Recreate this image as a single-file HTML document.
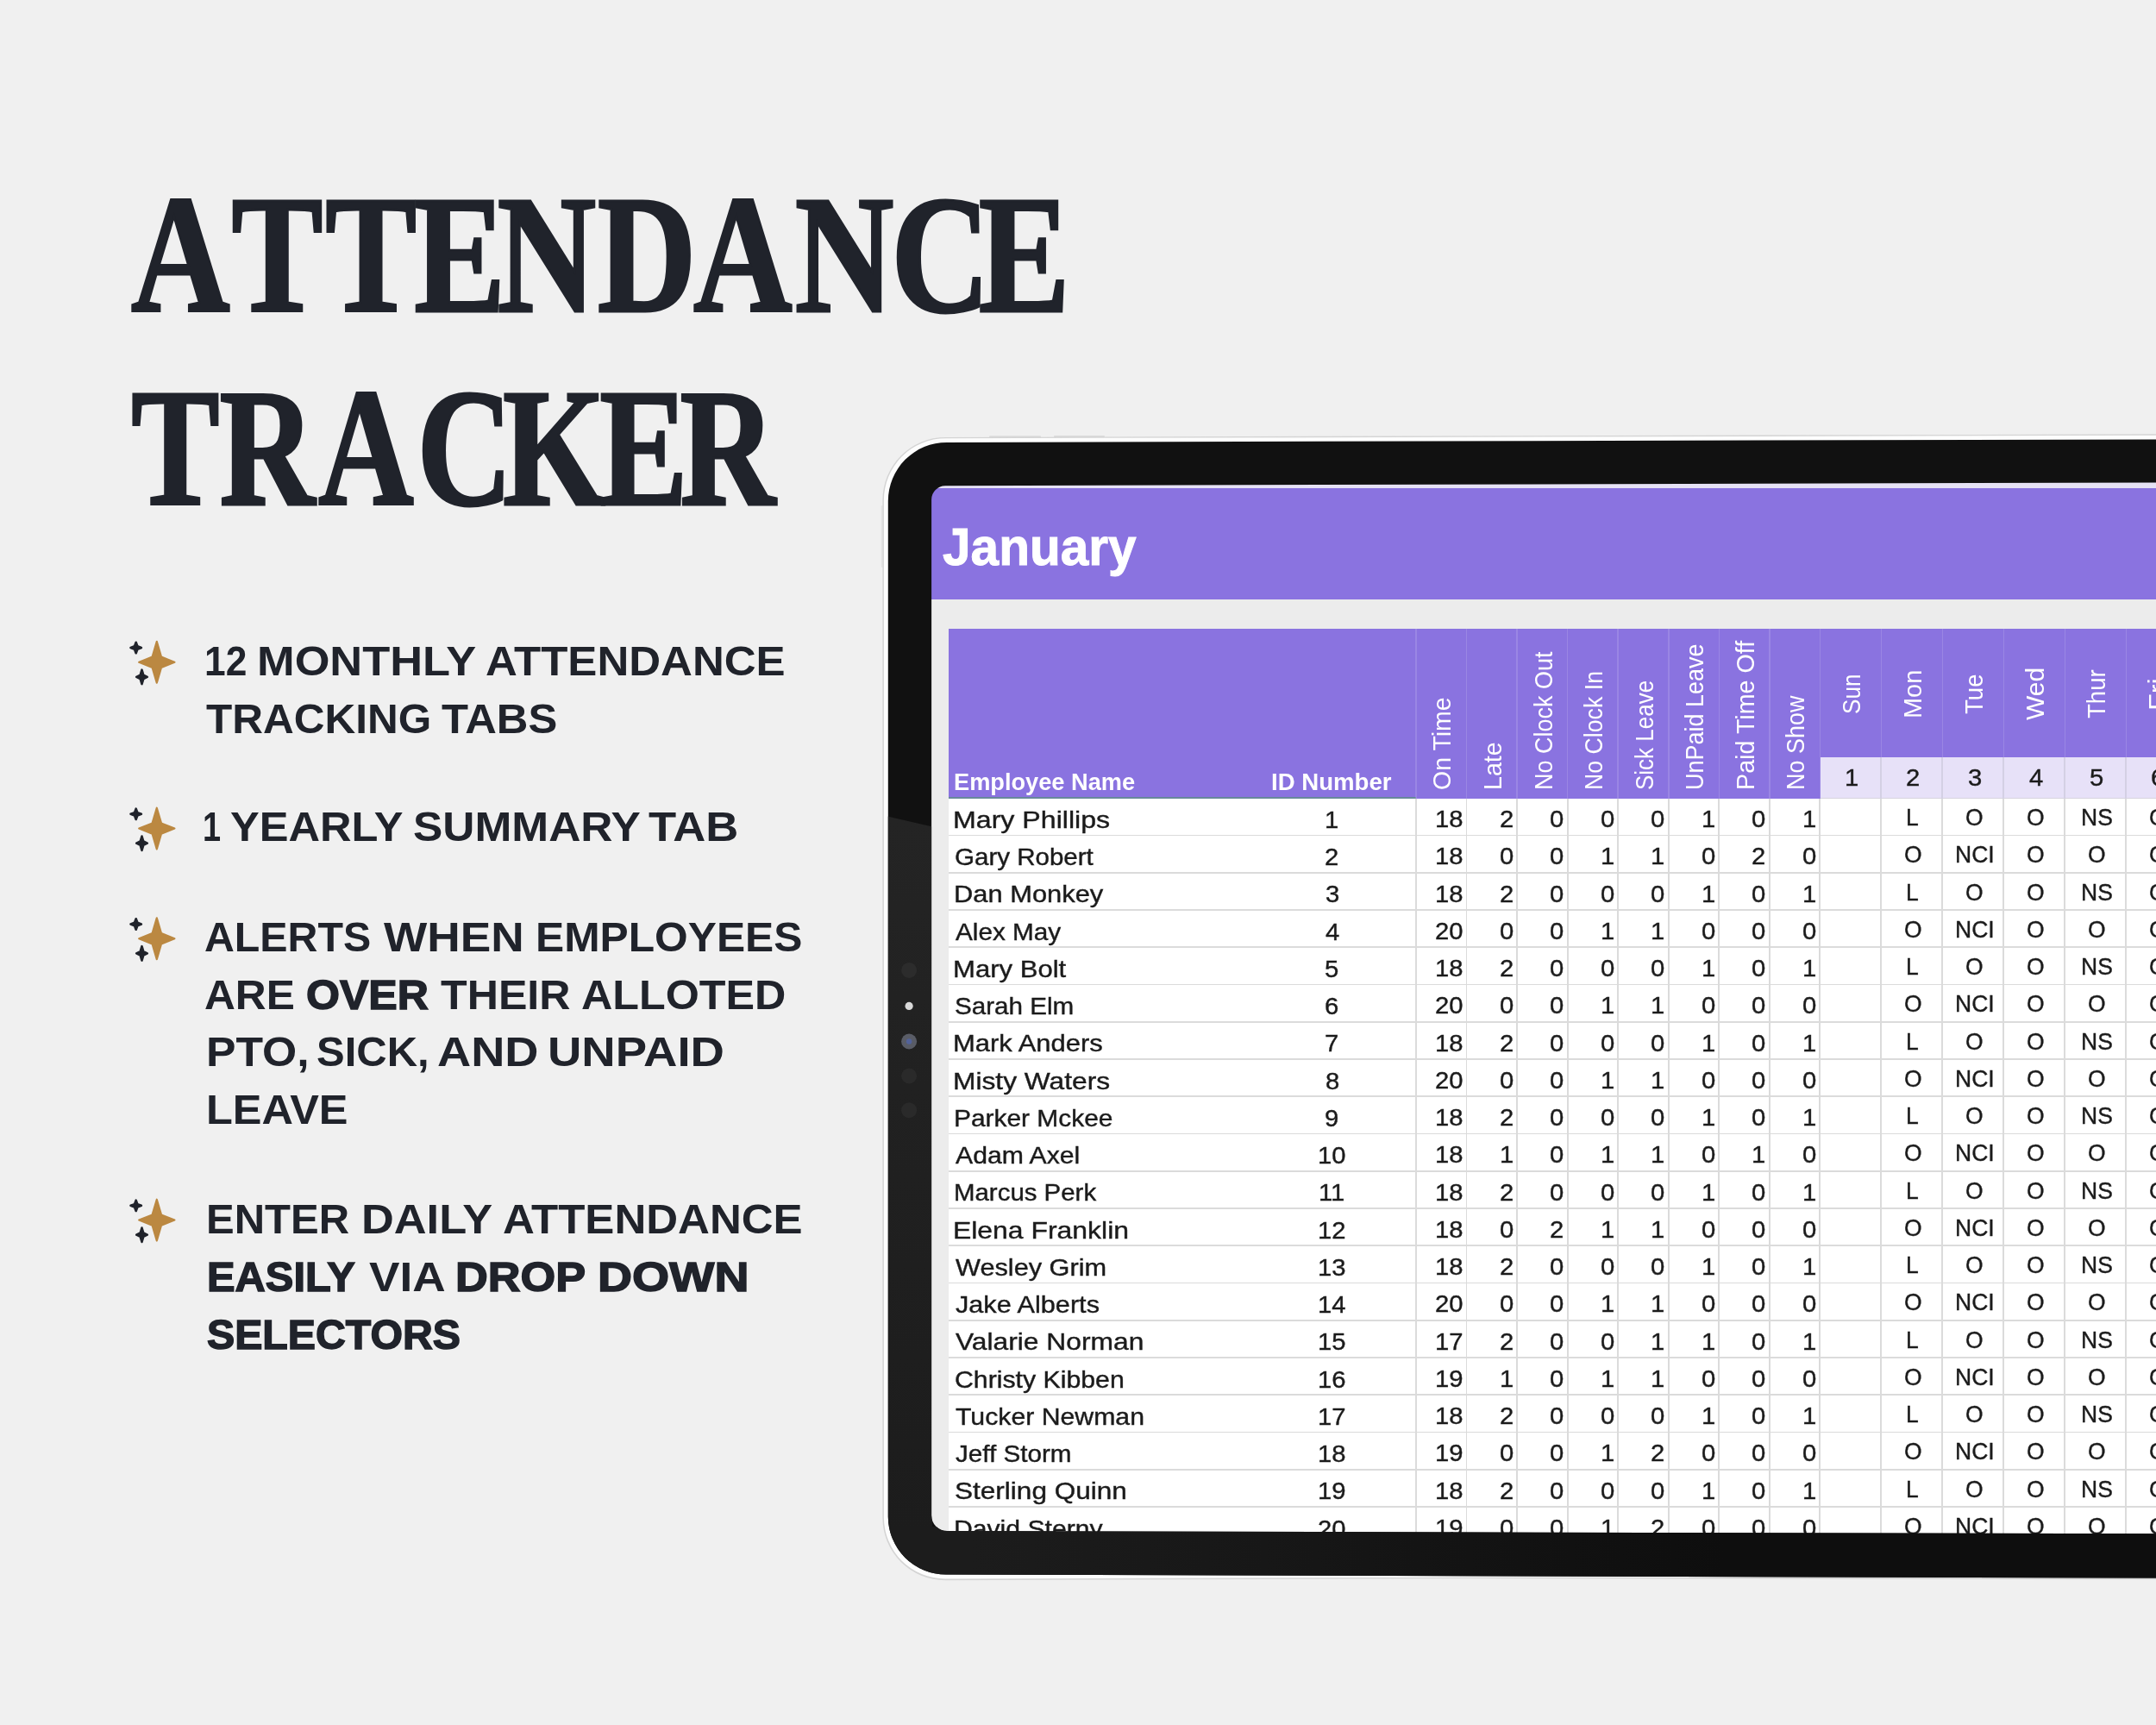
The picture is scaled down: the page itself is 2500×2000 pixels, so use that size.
<!DOCTYPE html>
<html lang="en"><head><meta charset="utf-8"><title>Attendance Tracker</title>
<style>
html,body{margin:0;padding:0}
html{width:2500px;height:2000px;overflow:hidden}
body{width:2500px;height:2000px;position:relative;overflow:hidden;background:#f0f0f0;font-family:"Liberation Sans",sans-serif}
.abs{position:absolute}
.t{position:absolute;white-space:nowrap;transform-origin:0 0;line-height:1}
.title{font-family:"Liberation Serif","DejaVu Serif",serif;font-weight:700;color:#20232b;font-size:194px;-webkit-text-stroke:3px #20232b}
.bl{font-family:"Liberation Sans",sans-serif;font-weight:700;color:#20232b;font-size:48.6px}
.bb{-webkit-text-stroke:1.5px #20232b}
#screen{position:absolute;left:1076px;top:557px;width:1424px;height:1225px;overflow:hidden;background:#ececec;filter:blur(0.45px)}
#screen .abs, #screen .t{position:absolute}
.rt{-webkit-text-stroke:0.4px #1b1b1b}
.cell{position:absolute;white-space:nowrap;color:#1c1c1c;font-size:27px;line-height:1}
.hv{position:absolute;white-space:nowrap;color:#fff;font-size:27px;transform-origin:0 0;transform:rotate(-90deg)}
</style></head><body>
<svg class="abs" style="left:0;top:0" width="1400" height="700" viewBox="0 0 1400 700"><g font-family="Liberation Serif, DejaVu Serif, serif" font-weight="700" font-size="194" fill="#20232b" stroke="#20232b" stroke-width="3.0" stroke-linejoin="miter">
<text transform="scale(0.8186,1)" y="361.40" x="185.54 328.04 460.82 586.77 704.20 846.28 982.11 1125.88 1262.33 1386.33">ATTENDANCE</text>
<text transform="scale(0.7905,1)" y="585.20" x="192.56 321.88 466.76 611.70 737.42 879.62 997.41">TRACKER</text>
</g></svg>
<div class="abs" style="left:0;top:741.60px;height:48.6px;width:1000px"><span class="t bl" style="left:236.56px;top:0;transform:scaleX(0.9122)">12</span> <span class="t bl" style="left:297.93px;top:0;transform:scaleX(1.0778)">MONTHLY</span> <span class="t bl" style="left:563.33px;top:0;transform:scaleX(1.0497)">ATTENDANCE</span> </div>
<div class="abs" style="left:0;top:808.60px;height:48.6px;width:1000px"><span class="t bl" style="left:239.09px;top:0;transform:scaleX(1.0186)">TRACKING</span> <span class="t bl" style="left:511.88px;top:0;transform:scaleX(1.0437)">TABS</span> </div>
<div class="abs" style="left:0;top:934.40px;height:48.6px;width:1000px"><span class="t bl" style="left:235.01px;top:0;transform:scaleX(0.7800)">1</span> <span class="t bl" style="left:267.06px;top:0;transform:scaleX(1.0409)">YEARLY</span> <span class="t bl" style="left:478.61px;top:0;transform:scaleX(1.0587)">SUMMARY</span> <span class="t bl" style="left:752.46px;top:0;transform:scaleX(1.0834)">TAB</span> </div>
<div class="abs" style="left:0;top:1061.70px;height:48.6px;width:1000px"><span class="t bl" style="left:237.41px;top:0;transform:scaleX(0.9937)">ALERTS</span> <span class="t bl" style="left:444.80px;top:0;transform:scaleX(1.0959)">WHEN</span> <span class="t bl" style="left:621.42px;top:0;transform:scaleX(1.0229)">EMPLOYEES</span> </div>
<div class="abs" style="left:0;top:1128.60px;height:48.6px;width:1000px"><span class="t bl" style="left:237.37px;top:0;transform:scaleX(1.0222)">ARE</span> <span class="t bl bb" style="left:355.05px;top:0;transform:scaleX(1.0308)">OVER</span> <span class="t bl" style="left:511.18px;top:0;transform:scaleX(1.0326)">THEIR</span> <span class="t bl" style="left:673.95px;top:0;transform:scaleX(1.0341)">ALLOTED</span> </div>
<div class="abs" style="left:0;top:1195.40px;height:48.6px;width:1000px"><span class="t bl" style="left:238.58px;top:0;transform:scaleX(1.0635)">PTO,</span> <span class="t bl" style="left:367.09px;top:0;transform:scaleX(1.0080)">SICK,</span> <span class="t bl" style="left:506.63px;top:0;transform:scaleX(1.1163)">AND</span> <span class="t bl" style="left:635.33px;top:0;transform:scaleX(1.1217)">UNPAID</span> </div>
<div class="abs" style="left:0;top:1262.40px;height:48.6px;width:1000px"><span class="t bl" style="left:238.67px;top:0;transform:scaleX(1.0386)">LEAVE</span> </div>
<div class="abs" style="left:0;top:1388.90px;height:48.6px;width:1000px"><span class="t bl" style="left:238.77px;top:0;transform:scaleX(1.0081)">ENTER</span> <span class="t bl" style="left:419.43px;top:0;transform:scaleX(1.0774)">DAILY</span> <span class="t bl" style="left:582.93px;top:0;transform:scaleX(1.0497)">ATTENDANCE</span> </div>
<div class="abs" style="left:0;top:1455.70px;height:48.6px;width:1000px"><span class="t bl bb" style="left:239.79px;top:0;transform:scaleX(1.0053)">EASILY</span> <span class="t bl" style="left:428.15px;top:0;transform:scaleX(1.0949)">VIA</span> <span class="t bl bb" style="left:527.91px;top:0;transform:scaleX(1.0774)">DROP</span> <span class="t bl bb" style="left:692.55px;top:0;transform:scaleX(1.1403)">DOWN</span> </div>
<div class="abs" style="left:0;top:1522.60px;height:48.6px;width:1000px"><span class="t bl bb" style="left:240.10px;top:0;transform:scaleX(0.9929)">SELECTORS</span> </div>
<svg class="abs" style="left:0;top:0" width="1000" height="2000" viewBox="0 0 1000 2000">
<path fill="#bb8841" stroke="#bb8841" stroke-width="2.2" stroke-linejoin="round" d="M181.80 743.90 L187.00 761.60 L202.40 767.80 L187.00 774.00 L181.80 791.70 L176.60 774.00 L161.20 767.80 L176.60 761.60Z"/><path fill="#20232b" stroke="#20232b" stroke-width="2.6" stroke-linejoin="round" d="M157.70 744.80 L159.40 749.30 L163.90 751.00 L159.40 752.70 L157.70 757.20 L156.00 752.70 L151.50 751.00 L156.00 749.30Z"/><path fill="#20232b" stroke="#20232b" stroke-width="2.6" stroke-linejoin="round" d="M164.50 776.70 L166.30 782.70 L170.80 784.90 L166.30 787.10 L164.50 793.10 L162.70 787.10 L158.20 784.90 L162.70 782.70Z"/>
<path fill="#bb8841" stroke="#bb8841" stroke-width="2.2" stroke-linejoin="round" d="M181.80 936.70 L187.00 954.40 L202.40 960.60 L187.00 966.80 L181.80 984.50 L176.60 966.80 L161.20 960.60 L176.60 954.40Z"/><path fill="#20232b" stroke="#20232b" stroke-width="2.6" stroke-linejoin="round" d="M157.70 937.60 L159.40 942.10 L163.90 943.80 L159.40 945.50 L157.70 950.00 L156.00 945.50 L151.50 943.80 L156.00 942.10Z"/><path fill="#20232b" stroke="#20232b" stroke-width="2.6" stroke-linejoin="round" d="M164.50 969.50 L166.30 975.50 L170.80 977.70 L166.30 979.90 L164.50 985.90 L162.70 979.90 L158.20 977.70 L162.70 975.50Z"/>
<path fill="#bb8841" stroke="#bb8841" stroke-width="2.2" stroke-linejoin="round" d="M181.80 1064.40 L187.00 1082.10 L202.40 1088.30 L187.00 1094.50 L181.80 1112.20 L176.60 1094.50 L161.20 1088.30 L176.60 1082.10Z"/><path fill="#20232b" stroke="#20232b" stroke-width="2.6" stroke-linejoin="round" d="M157.70 1065.30 L159.40 1069.80 L163.90 1071.50 L159.40 1073.20 L157.70 1077.70 L156.00 1073.20 L151.50 1071.50 L156.00 1069.80Z"/><path fill="#20232b" stroke="#20232b" stroke-width="2.6" stroke-linejoin="round" d="M164.50 1097.20 L166.30 1103.20 L170.80 1105.40 L166.30 1107.60 L164.50 1113.60 L162.70 1107.60 L158.20 1105.40 L162.70 1103.20Z"/>
<path fill="#bb8841" stroke="#bb8841" stroke-width="2.2" stroke-linejoin="round" d="M181.80 1390.70 L187.00 1408.40 L202.40 1414.60 L187.00 1420.80 L181.80 1438.50 L176.60 1420.80 L161.20 1414.60 L176.60 1408.40Z"/><path fill="#20232b" stroke="#20232b" stroke-width="2.6" stroke-linejoin="round" d="M157.70 1391.60 L159.40 1396.10 L163.90 1397.80 L159.40 1399.50 L157.70 1404.00 L156.00 1399.50 L151.50 1397.80 L156.00 1396.10Z"/><path fill="#20232b" stroke="#20232b" stroke-width="2.6" stroke-linejoin="round" d="M164.50 1423.50 L166.30 1429.50 L170.80 1431.70 L166.30 1433.90 L164.50 1439.90 L162.70 1433.90 L158.20 1431.70 L162.70 1429.50Z"/>
</svg>
<svg class="abs" style="left:0;top:0" width="2500" height="2000" viewBox="0 0 2500 2000">
<rect x="1147" y="505.2" width="60" height="2" rx="1" fill="#dadada"/><rect x="1222" y="505.0" width="59" height="2" rx="1" fill="#dadada"/>
<rect x="1021.8" y="586" width="2" height="72" rx="1" fill="#e2e2e2"/>
<path fill="#d4d4d4" d="M1023.4 580 A73 73 0 0 1 1096.4 506.9 L2520 503.3 L2520 1831.4 L1700 1830.0 L1096 1832.2 A72.6 72.6 0 0 1 1023.4 1759.6 Z"/>
<path fill="#fdfdfd" d="M1024.9 580 A71.6 71.6 0 0 1 1096.5 508.2 L2520 504.7 L2520 1829.0 L1700 1828.7 L1096 1830.4 A71 71 0 0 1 1024.9 1759.4 Z"/>
</svg>
<div id="screen">
<div class="abs" style="left:0;top:0;width:1440px;height:8.8px;background:#e6e2f5"></div>
<div class="abs" style="left:0;top:8.8px;width:1440px;height:129.0px;background:#8a73e0"></div>
<div class="t" style="left:17.36px;top:46.50px;font-size:61px;font-weight:700;color:#fff;transform:scaleX(0.9602);-webkit-text-stroke:1px #fff">January</div>

<div class="abs" style="left:23.5px;top:171.5px;width:1500px;height:197.1px;background:#8a73e0"></div>
<div class="abs" style="left:23.5px;top:368.6px;width:1500px;height:900px;background:#fff"></div>
<div class="abs" style="left:1034.9px;top:320.8px;width:500px;height:47.8px;background:#e7e1f8"></div>
<div class="abs" style="left:23.5px;top:366.6px;width:542.5px;height:2.2px;background:#5f8f8a;opacity:.8"></div>
<div class="t" style="left:30.22px;top:335.90px;font-size:27.5px;font-weight:700;color:#fff;transform:scaleX(0.9890);">Employee Name</div>
<div class="t" style="left:397.99px;top:335.90px;font-size:27.5px;font-weight:700;color:#fff;transform:scaleX(1.0037);">ID Number</div>

<div class="t" style="left:582.43px;top:358.88px;font-size:27px;font-weight:400;color:#fff;transform:rotate(-90deg) scale(1.0553,1.0700)">On Time</div>
<div class="t" style="left:640.98px;top:359.42px;font-size:27px;font-weight:400;color:#fff;transform:rotate(-90deg) scale(1.0586,1.0700)">Late</div>
<div class="t" style="left:699.53px;top:359.30px;font-size:27px;font-weight:400;color:#fff;transform:rotate(-90deg) scale(0.9994,1.0700)">No Clock Out</div>
<div class="t" style="left:758.08px;top:359.28px;font-size:27px;font-weight:400;color:#fff;transform:rotate(-90deg) scale(0.9890,1.0700)">No Clock In</div>
<div class="t" style="left:816.63px;top:358.74px;font-size:27px;font-weight:400;color:#fff;transform:rotate(-90deg) scale(0.9629,1.0700)">Sick Leave</div>
<div class="t" style="left:875.18px;top:359.30px;font-size:27px;font-weight:400;color:#fff;transform:rotate(-90deg) scale(1.0000,1.0700)">UnPaid Leave</div>
<div class="t" style="left:933.73px;top:359.43px;font-size:27px;font-weight:400;color:#fff;transform:rotate(-90deg) scale(1.0627,1.0700)">Paid Time Off</div>
<div class="t" style="left:992.28px;top:359.30px;font-size:27px;font-weight:400;color:#fff;transform:rotate(-90deg) scale(0.9981,1.0700)">No Show</div>

<div class="t" style="left:1057.26px;top:271.25px;font-size:27px;font-weight:400;color:#fff;transform:rotate(-90deg) scale(0.9689,1.0700)">Sun</div>
<div class="t rt" style="left:1063.22px;top:331.10px;font-size:27.6px;font-weight:400;color:#1b1b1b;transform:scaleX(1.0600);">1</div>
<div class="t" style="left:1128.26px;top:276.39px;font-size:27px;font-weight:400;color:#fff;transform:rotate(-90deg) scale(1.0714,1.0700)">Mon</div>
<div class="t rt" style="left:1134.49px;top:331.10px;font-size:27.6px;font-weight:400;color:#1b1b1b;transform:scaleX(1.0600);">2</div>
<div class="t" style="left:1199.26px;top:271.01px;font-size:27px;font-weight:400;color:#fff;transform:rotate(-90deg) scale(1.0227,1.0700)">Tue</div>
<div class="t rt" style="left:1205.75px;top:331.10px;font-size:27.6px;font-weight:400;color:#1b1b1b;transform:scaleX(1.0600);">3</div>
<div class="t" style="left:1270.26px;top:277.50px;font-size:27px;font-weight:400;color:#fff;transform:rotate(-90deg) scale(1.1132,1.0700)">Wed</div>
<div class="t rt" style="left:1276.75px;top:331.10px;font-size:27.6px;font-weight:400;color:#1b1b1b;transform:scaleX(1.0600);">4</div>
<div class="t" style="left:1341.26px;top:276.36px;font-size:27px;font-weight:400;color:#fff;transform:rotate(-90deg) scale(1.0220,1.0700)">Thur</div>
<div class="t rt" style="left:1347.49px;top:331.10px;font-size:27.6px;font-weight:400;color:#1b1b1b;transform:scaleX(1.0600);">5</div>
<div class="t" style="left:1412.26px;top:266.90px;font-size:27px;font-weight:400;color:#fff;transform:rotate(-90deg) scale(1.2000,1.0700)">Fri</div>
<div class="t rt" style="left:1418.49px;top:331.10px;font-size:27.6px;font-weight:400;color:#1b1b1b;transform:scaleX(1.0600);">6</div>

<div class="abs" style="left:1034.9px;top:367.6px;width:500px;height:1.9px;background:#d6d4de"></div><div class="abs" style="left:565.2px;top:171.5px;width:1.6px;height:197.1px;background:rgba(255,255,255,.14)"></div><div class="abs" style="left:623.8px;top:171.5px;width:1.6px;height:197.1px;background:rgba(255,255,255,.14)"></div><div class="abs" style="left:682.3px;top:171.5px;width:1.6px;height:197.1px;background:rgba(255,255,255,.14)"></div><div class="abs" style="left:740.9px;top:171.5px;width:1.6px;height:197.1px;background:rgba(255,255,255,.14)"></div><div class="abs" style="left:799.4px;top:171.5px;width:1.6px;height:197.1px;background:rgba(255,255,255,.14)"></div><div class="abs" style="left:858.0px;top:171.5px;width:1.6px;height:197.1px;background:rgba(255,255,255,.14)"></div><div class="abs" style="left:916.5px;top:171.5px;width:1.6px;height:197.1px;background:rgba(255,255,255,.14)"></div><div class="abs" style="left:975.0px;top:171.5px;width:1.6px;height:197.1px;background:rgba(255,255,255,.14)"></div><div class="abs" style="left:1033.6px;top:171.5px;width:1.6px;height:197.1px;background:rgba(255,255,255,.14)"></div><div class="abs" style="left:1104.6px;top:171.5px;width:1.6px;height:149.3px;background:rgba(255,255,255,.14)"></div><div class="abs" style="left:1104.4px;top:320.8px;width:2px;height:47.8px;background:#d4d0e4"></div><div class="abs" style="left:1175.6px;top:171.5px;width:1.6px;height:149.3px;background:rgba(255,255,255,.14)"></div><div class="abs" style="left:1175.4px;top:320.8px;width:2px;height:47.8px;background:#d4d0e4"></div><div class="abs" style="left:1246.6px;top:171.5px;width:1.6px;height:149.3px;background:rgba(255,255,255,.14)"></div><div class="abs" style="left:1246.4px;top:320.8px;width:2px;height:47.8px;background:#d4d0e4"></div><div class="abs" style="left:1317.6px;top:171.5px;width:1.6px;height:149.3px;background:rgba(255,255,255,.14)"></div><div class="abs" style="left:1317.4px;top:320.8px;width:2px;height:47.8px;background:#d4d0e4"></div><div class="abs" style="left:1388.6px;top:171.5px;width:1.6px;height:149.3px;background:rgba(255,255,255,.14)"></div><div class="abs" style="left:1388.4px;top:320.8px;width:2px;height:47.8px;background:#d4d0e4"></div><div class="abs" style="left:1459.6px;top:171.5px;width:1.6px;height:149.3px;background:rgba(255,255,255,.14)"></div><div class="abs" style="left:1459.4px;top:320.8px;width:2px;height:47.8px;background:#d4d0e4"></div>
<div class="t rt" style="left:29.39px;top:379.80px;font-size:27.6px;font-weight:400;color:#1b1b1b;transform:scaleX(1.1647);">Mary Phillips</div>
<div class="t rt" style="left:460.12px;top:379.80px;font-size:27.6px;font-weight:400;color:#1b1b1b;transform:scaleX(1.0600);">1</div>
<div class="t rt" style="left:587.68px;top:379.20px;font-size:27.6px;font-weight:400;color:#1b1b1b;transform:scaleX(1.0600);">18</div>
<div class="t rt" style="left:662.66px;top:379.20px;font-size:27.6px;font-weight:400;color:#1b1b1b;transform:scaleX(1.0600);">2</div>
<div class="t rt" style="left:721.21px;top:379.20px;font-size:27.6px;font-weight:400;color:#1b1b1b;transform:scaleX(1.0600);">0</div>
<div class="t rt" style="left:779.76px;top:379.20px;font-size:27.6px;font-weight:400;color:#1b1b1b;transform:scaleX(1.0600);">0</div>
<div class="t rt" style="left:838.31px;top:379.20px;font-size:27.6px;font-weight:400;color:#1b1b1b;transform:scaleX(1.0600);">0</div>
<div class="t rt" style="left:896.86px;top:379.20px;font-size:27.6px;font-weight:400;color:#1b1b1b;transform:scaleX(1.0600);">1</div>
<div class="t rt" style="left:955.41px;top:379.20px;font-size:27.6px;font-weight:400;color:#1b1b1b;transform:scaleX(1.0600);">0</div>
<div class="t rt" style="left:1013.96px;top:379.20px;font-size:27.6px;font-weight:400;color:#1b1b1b;transform:scaleX(1.0600);">1</div>
<div class="t rt" style="left:1134.34px;top:377.20px;font-size:27.6px;font-weight:400;color:#1b1b1b;transform:scaleX(0.9600);">L</div>
<div class="t rt" style="left:1203.18px;top:377.20px;font-size:27.6px;font-weight:400;color:#1b1b1b;transform:scaleX(0.9600);">O</div>
<div class="t rt" style="left:1274.18px;top:377.20px;font-size:27.6px;font-weight:400;color:#1b1b1b;transform:scaleX(0.9600);">O</div>
<div class="t rt" style="left:1336.54px;top:377.20px;font-size:27.6px;font-weight:400;color:#1b1b1b;transform:scaleX(0.9600);">NS</div>
<div class="t rt" style="left:1416.18px;top:377.20px;font-size:27.6px;font-weight:400;color:#1b1b1b;transform:scaleX(0.9600);">O</div>

<div class="abs" style="left:23.5px;top:410.6px;width:1500px;height:1.9px;background:#dbdbdb"></div>
<div class="t rt" style="left:30.69px;top:423.05px;font-size:27.6px;font-weight:400;color:#1b1b1b;transform:scaleX(1.0700);">Gary Robert</div>
<div class="t rt" style="left:460.38px;top:423.05px;font-size:27.6px;font-weight:400;color:#1b1b1b;transform:scaleX(1.0600);">2</div>
<div class="t rt" style="left:587.68px;top:422.45px;font-size:27.6px;font-weight:400;color:#1b1b1b;transform:scaleX(1.0600);">18</div>
<div class="t rt" style="left:662.66px;top:422.45px;font-size:27.6px;font-weight:400;color:#1b1b1b;transform:scaleX(1.0600);">0</div>
<div class="t rt" style="left:721.21px;top:422.45px;font-size:27.6px;font-weight:400;color:#1b1b1b;transform:scaleX(1.0600);">0</div>
<div class="t rt" style="left:779.76px;top:422.45px;font-size:27.6px;font-weight:400;color:#1b1b1b;transform:scaleX(1.0600);">1</div>
<div class="t rt" style="left:838.31px;top:422.45px;font-size:27.6px;font-weight:400;color:#1b1b1b;transform:scaleX(1.0600);">1</div>
<div class="t rt" style="left:896.86px;top:422.45px;font-size:27.6px;font-weight:400;color:#1b1b1b;transform:scaleX(1.0600);">0</div>
<div class="t rt" style="left:955.41px;top:422.45px;font-size:27.6px;font-weight:400;color:#1b1b1b;transform:scaleX(1.0600);">2</div>
<div class="t rt" style="left:1013.96px;top:422.45px;font-size:27.6px;font-weight:400;color:#1b1b1b;transform:scaleX(1.0600);">0</div>
<div class="t rt" style="left:1132.18px;top:420.45px;font-size:27.6px;font-weight:400;color:#1b1b1b;transform:scaleX(0.9600);">O</div>
<div class="t rt" style="left:1190.70px;top:420.45px;font-size:27.6px;font-weight:400;color:#1b1b1b;transform:scaleX(0.9600);">NCI</div>
<div class="t rt" style="left:1274.18px;top:420.45px;font-size:27.6px;font-weight:400;color:#1b1b1b;transform:scaleX(0.9600);">O</div>
<div class="t rt" style="left:1345.18px;top:420.45px;font-size:27.6px;font-weight:400;color:#1b1b1b;transform:scaleX(0.9600);">O</div>
<div class="t rt" style="left:1416.18px;top:420.45px;font-size:27.6px;font-weight:400;color:#1b1b1b;transform:scaleX(0.9600);">O</div>

<div class="abs" style="left:23.5px;top:453.8px;width:1500px;height:1.9px;background:#dbdbdb"></div>
<div class="t rt" style="left:29.50px;top:466.30px;font-size:27.6px;font-weight:400;color:#1b1b1b;transform:scaleX(1.1184);">Dan Monkey</div>
<div class="t rt" style="left:460.65px;top:466.30px;font-size:27.6px;font-weight:400;color:#1b1b1b;transform:scaleX(1.0600);">3</div>
<div class="t rt" style="left:587.68px;top:465.70px;font-size:27.6px;font-weight:400;color:#1b1b1b;transform:scaleX(1.0600);">18</div>
<div class="t rt" style="left:662.66px;top:465.70px;font-size:27.6px;font-weight:400;color:#1b1b1b;transform:scaleX(1.0600);">2</div>
<div class="t rt" style="left:721.21px;top:465.70px;font-size:27.6px;font-weight:400;color:#1b1b1b;transform:scaleX(1.0600);">0</div>
<div class="t rt" style="left:779.76px;top:465.70px;font-size:27.6px;font-weight:400;color:#1b1b1b;transform:scaleX(1.0600);">0</div>
<div class="t rt" style="left:838.31px;top:465.70px;font-size:27.6px;font-weight:400;color:#1b1b1b;transform:scaleX(1.0600);">0</div>
<div class="t rt" style="left:896.86px;top:465.70px;font-size:27.6px;font-weight:400;color:#1b1b1b;transform:scaleX(1.0600);">1</div>
<div class="t rt" style="left:955.41px;top:465.70px;font-size:27.6px;font-weight:400;color:#1b1b1b;transform:scaleX(1.0600);">0</div>
<div class="t rt" style="left:1013.96px;top:465.70px;font-size:27.6px;font-weight:400;color:#1b1b1b;transform:scaleX(1.0600);">1</div>
<div class="t rt" style="left:1134.34px;top:463.70px;font-size:27.6px;font-weight:400;color:#1b1b1b;transform:scaleX(0.9600);">L</div>
<div class="t rt" style="left:1203.18px;top:463.70px;font-size:27.6px;font-weight:400;color:#1b1b1b;transform:scaleX(0.9600);">O</div>
<div class="t rt" style="left:1274.18px;top:463.70px;font-size:27.6px;font-weight:400;color:#1b1b1b;transform:scaleX(0.9600);">O</div>
<div class="t rt" style="left:1336.54px;top:463.70px;font-size:27.6px;font-weight:400;color:#1b1b1b;transform:scaleX(0.9600);">NS</div>
<div class="t rt" style="left:1416.18px;top:463.70px;font-size:27.6px;font-weight:400;color:#1b1b1b;transform:scaleX(0.9600);">O</div>

<div class="abs" style="left:23.5px;top:497.0px;width:1500px;height:1.9px;background:#dbdbdb"></div>
<div class="t rt" style="left:32.30px;top:509.55px;font-size:27.6px;font-weight:400;color:#1b1b1b;transform:scaleX(1.0770);">Alex May</div>
<div class="t rt" style="left:460.65px;top:509.55px;font-size:27.6px;font-weight:400;color:#1b1b1b;transform:scaleX(1.0600);">4</div>
<div class="t rt" style="left:587.68px;top:508.95px;font-size:27.6px;font-weight:400;color:#1b1b1b;transform:scaleX(1.0600);">20</div>
<div class="t rt" style="left:662.66px;top:508.95px;font-size:27.6px;font-weight:400;color:#1b1b1b;transform:scaleX(1.0600);">0</div>
<div class="t rt" style="left:721.21px;top:508.95px;font-size:27.6px;font-weight:400;color:#1b1b1b;transform:scaleX(1.0600);">0</div>
<div class="t rt" style="left:779.76px;top:508.95px;font-size:27.6px;font-weight:400;color:#1b1b1b;transform:scaleX(1.0600);">1</div>
<div class="t rt" style="left:838.31px;top:508.95px;font-size:27.6px;font-weight:400;color:#1b1b1b;transform:scaleX(1.0600);">1</div>
<div class="t rt" style="left:896.86px;top:508.95px;font-size:27.6px;font-weight:400;color:#1b1b1b;transform:scaleX(1.0600);">0</div>
<div class="t rt" style="left:955.41px;top:508.95px;font-size:27.6px;font-weight:400;color:#1b1b1b;transform:scaleX(1.0600);">0</div>
<div class="t rt" style="left:1013.96px;top:508.95px;font-size:27.6px;font-weight:400;color:#1b1b1b;transform:scaleX(1.0600);">0</div>
<div class="t rt" style="left:1132.18px;top:506.95px;font-size:27.6px;font-weight:400;color:#1b1b1b;transform:scaleX(0.9600);">O</div>
<div class="t rt" style="left:1190.70px;top:506.95px;font-size:27.6px;font-weight:400;color:#1b1b1b;transform:scaleX(0.9600);">NCI</div>
<div class="t rt" style="left:1274.18px;top:506.95px;font-size:27.6px;font-weight:400;color:#1b1b1b;transform:scaleX(0.9600);">O</div>
<div class="t rt" style="left:1345.18px;top:506.95px;font-size:27.6px;font-weight:400;color:#1b1b1b;transform:scaleX(0.9600);">O</div>
<div class="t rt" style="left:1416.18px;top:506.95px;font-size:27.6px;font-weight:400;color:#1b1b1b;transform:scaleX(0.9600);">O</div>

<div class="abs" style="left:23.5px;top:540.3px;width:1500px;height:1.9px;background:#dbdbdb"></div>
<div class="t rt" style="left:29.48px;top:552.80px;font-size:27.6px;font-weight:400;color:#1b1b1b;transform:scaleX(1.1263);">Mary Bolt</div>
<div class="t rt" style="left:460.38px;top:552.80px;font-size:27.6px;font-weight:400;color:#1b1b1b;transform:scaleX(1.0600);">5</div>
<div class="t rt" style="left:587.68px;top:552.20px;font-size:27.6px;font-weight:400;color:#1b1b1b;transform:scaleX(1.0600);">18</div>
<div class="t rt" style="left:662.66px;top:552.20px;font-size:27.6px;font-weight:400;color:#1b1b1b;transform:scaleX(1.0600);">2</div>
<div class="t rt" style="left:721.21px;top:552.20px;font-size:27.6px;font-weight:400;color:#1b1b1b;transform:scaleX(1.0600);">0</div>
<div class="t rt" style="left:779.76px;top:552.20px;font-size:27.6px;font-weight:400;color:#1b1b1b;transform:scaleX(1.0600);">0</div>
<div class="t rt" style="left:838.31px;top:552.20px;font-size:27.6px;font-weight:400;color:#1b1b1b;transform:scaleX(1.0600);">0</div>
<div class="t rt" style="left:896.86px;top:552.20px;font-size:27.6px;font-weight:400;color:#1b1b1b;transform:scaleX(1.0600);">1</div>
<div class="t rt" style="left:955.41px;top:552.20px;font-size:27.6px;font-weight:400;color:#1b1b1b;transform:scaleX(1.0600);">0</div>
<div class="t rt" style="left:1013.96px;top:552.20px;font-size:27.6px;font-weight:400;color:#1b1b1b;transform:scaleX(1.0600);">1</div>
<div class="t rt" style="left:1134.34px;top:550.20px;font-size:27.6px;font-weight:400;color:#1b1b1b;transform:scaleX(0.9600);">L</div>
<div class="t rt" style="left:1203.18px;top:550.20px;font-size:27.6px;font-weight:400;color:#1b1b1b;transform:scaleX(0.9600);">O</div>
<div class="t rt" style="left:1274.18px;top:550.20px;font-size:27.6px;font-weight:400;color:#1b1b1b;transform:scaleX(0.9600);">O</div>
<div class="t rt" style="left:1336.54px;top:550.20px;font-size:27.6px;font-weight:400;color:#1b1b1b;transform:scaleX(0.9600);">NS</div>
<div class="t rt" style="left:1416.18px;top:550.20px;font-size:27.6px;font-weight:400;color:#1b1b1b;transform:scaleX(0.9600);">O</div>

<div class="abs" style="left:23.5px;top:583.5px;width:1500px;height:1.9px;background:#dbdbdb"></div>
<div class="t rt" style="left:30.69px;top:596.05px;font-size:27.6px;font-weight:400;color:#1b1b1b;transform:scaleX(1.0733);">Sarah Elm</div>
<div class="t rt" style="left:460.38px;top:596.05px;font-size:27.6px;font-weight:400;color:#1b1b1b;transform:scaleX(1.0600);">6</div>
<div class="t rt" style="left:587.68px;top:595.45px;font-size:27.6px;font-weight:400;color:#1b1b1b;transform:scaleX(1.0600);">20</div>
<div class="t rt" style="left:662.66px;top:595.45px;font-size:27.6px;font-weight:400;color:#1b1b1b;transform:scaleX(1.0600);">0</div>
<div class="t rt" style="left:721.21px;top:595.45px;font-size:27.6px;font-weight:400;color:#1b1b1b;transform:scaleX(1.0600);">0</div>
<div class="t rt" style="left:779.76px;top:595.45px;font-size:27.6px;font-weight:400;color:#1b1b1b;transform:scaleX(1.0600);">1</div>
<div class="t rt" style="left:838.31px;top:595.45px;font-size:27.6px;font-weight:400;color:#1b1b1b;transform:scaleX(1.0600);">1</div>
<div class="t rt" style="left:896.86px;top:595.45px;font-size:27.6px;font-weight:400;color:#1b1b1b;transform:scaleX(1.0600);">0</div>
<div class="t rt" style="left:955.41px;top:595.45px;font-size:27.6px;font-weight:400;color:#1b1b1b;transform:scaleX(1.0600);">0</div>
<div class="t rt" style="left:1013.96px;top:595.45px;font-size:27.6px;font-weight:400;color:#1b1b1b;transform:scaleX(1.0600);">0</div>
<div class="t rt" style="left:1132.18px;top:593.45px;font-size:27.6px;font-weight:400;color:#1b1b1b;transform:scaleX(0.9600);">O</div>
<div class="t rt" style="left:1190.70px;top:593.45px;font-size:27.6px;font-weight:400;color:#1b1b1b;transform:scaleX(0.9600);">NCI</div>
<div class="t rt" style="left:1274.18px;top:593.45px;font-size:27.6px;font-weight:400;color:#1b1b1b;transform:scaleX(0.9600);">O</div>
<div class="t rt" style="left:1345.18px;top:593.45px;font-size:27.6px;font-weight:400;color:#1b1b1b;transform:scaleX(0.9600);">O</div>
<div class="t rt" style="left:1416.18px;top:593.45px;font-size:27.6px;font-weight:400;color:#1b1b1b;transform:scaleX(0.9600);">O</div>

<div class="abs" style="left:23.5px;top:626.8px;width:1500px;height:1.9px;background:#dbdbdb"></div>
<div class="t rt" style="left:29.49px;top:639.30px;font-size:27.6px;font-weight:400;color:#1b1b1b;transform:scaleX(1.1221);">Mark Anders</div>
<div class="t rt" style="left:460.38px;top:639.30px;font-size:27.6px;font-weight:400;color:#1b1b1b;transform:scaleX(1.0600);">7</div>
<div class="t rt" style="left:587.68px;top:638.70px;font-size:27.6px;font-weight:400;color:#1b1b1b;transform:scaleX(1.0600);">18</div>
<div class="t rt" style="left:662.66px;top:638.70px;font-size:27.6px;font-weight:400;color:#1b1b1b;transform:scaleX(1.0600);">2</div>
<div class="t rt" style="left:721.21px;top:638.70px;font-size:27.6px;font-weight:400;color:#1b1b1b;transform:scaleX(1.0600);">0</div>
<div class="t rt" style="left:779.76px;top:638.70px;font-size:27.6px;font-weight:400;color:#1b1b1b;transform:scaleX(1.0600);">0</div>
<div class="t rt" style="left:838.31px;top:638.70px;font-size:27.6px;font-weight:400;color:#1b1b1b;transform:scaleX(1.0600);">0</div>
<div class="t rt" style="left:896.86px;top:638.70px;font-size:27.6px;font-weight:400;color:#1b1b1b;transform:scaleX(1.0600);">1</div>
<div class="t rt" style="left:955.41px;top:638.70px;font-size:27.6px;font-weight:400;color:#1b1b1b;transform:scaleX(1.0600);">0</div>
<div class="t rt" style="left:1013.96px;top:638.70px;font-size:27.6px;font-weight:400;color:#1b1b1b;transform:scaleX(1.0600);">1</div>
<div class="t rt" style="left:1134.34px;top:636.70px;font-size:27.6px;font-weight:400;color:#1b1b1b;transform:scaleX(0.9600);">L</div>
<div class="t rt" style="left:1203.18px;top:636.70px;font-size:27.6px;font-weight:400;color:#1b1b1b;transform:scaleX(0.9600);">O</div>
<div class="t rt" style="left:1274.18px;top:636.70px;font-size:27.6px;font-weight:400;color:#1b1b1b;transform:scaleX(0.9600);">O</div>
<div class="t rt" style="left:1336.54px;top:636.70px;font-size:27.6px;font-weight:400;color:#1b1b1b;transform:scaleX(0.9600);">NS</div>
<div class="t rt" style="left:1416.18px;top:636.70px;font-size:27.6px;font-weight:400;color:#1b1b1b;transform:scaleX(0.9600);">O</div>

<div class="abs" style="left:23.5px;top:670.0px;width:1500px;height:1.9px;background:#dbdbdb"></div>
<div class="t rt" style="left:29.43px;top:682.55px;font-size:27.6px;font-weight:400;color:#1b1b1b;transform:scaleX(1.1497);">Misty Waters</div>
<div class="t rt" style="left:460.65px;top:682.55px;font-size:27.6px;font-weight:400;color:#1b1b1b;transform:scaleX(1.0600);">8</div>
<div class="t rt" style="left:587.68px;top:681.95px;font-size:27.6px;font-weight:400;color:#1b1b1b;transform:scaleX(1.0600);">20</div>
<div class="t rt" style="left:662.66px;top:681.95px;font-size:27.6px;font-weight:400;color:#1b1b1b;transform:scaleX(1.0600);">0</div>
<div class="t rt" style="left:721.21px;top:681.95px;font-size:27.6px;font-weight:400;color:#1b1b1b;transform:scaleX(1.0600);">0</div>
<div class="t rt" style="left:779.76px;top:681.95px;font-size:27.6px;font-weight:400;color:#1b1b1b;transform:scaleX(1.0600);">1</div>
<div class="t rt" style="left:838.31px;top:681.95px;font-size:27.6px;font-weight:400;color:#1b1b1b;transform:scaleX(1.0600);">1</div>
<div class="t rt" style="left:896.86px;top:681.95px;font-size:27.6px;font-weight:400;color:#1b1b1b;transform:scaleX(1.0600);">0</div>
<div class="t rt" style="left:955.41px;top:681.95px;font-size:27.6px;font-weight:400;color:#1b1b1b;transform:scaleX(1.0600);">0</div>
<div class="t rt" style="left:1013.96px;top:681.95px;font-size:27.6px;font-weight:400;color:#1b1b1b;transform:scaleX(1.0600);">0</div>
<div class="t rt" style="left:1132.18px;top:679.95px;font-size:27.6px;font-weight:400;color:#1b1b1b;transform:scaleX(0.9600);">O</div>
<div class="t rt" style="left:1190.70px;top:679.95px;font-size:27.6px;font-weight:400;color:#1b1b1b;transform:scaleX(0.9600);">NCI</div>
<div class="t rt" style="left:1274.18px;top:679.95px;font-size:27.6px;font-weight:400;color:#1b1b1b;transform:scaleX(0.9600);">O</div>
<div class="t rt" style="left:1345.18px;top:679.95px;font-size:27.6px;font-weight:400;color:#1b1b1b;transform:scaleX(0.9600);">O</div>
<div class="t rt" style="left:1416.18px;top:679.95px;font-size:27.6px;font-weight:400;color:#1b1b1b;transform:scaleX(0.9600);">O</div>

<div class="abs" style="left:23.5px;top:713.3px;width:1500px;height:1.9px;background:#dbdbdb"></div>
<div class="t rt" style="left:29.59px;top:725.80px;font-size:27.6px;font-weight:400;color:#1b1b1b;transform:scaleX(1.0835);">Parker Mckee</div>
<div class="t rt" style="left:460.38px;top:725.80px;font-size:27.6px;font-weight:400;color:#1b1b1b;transform:scaleX(1.0600);">9</div>
<div class="t rt" style="left:587.68px;top:725.20px;font-size:27.6px;font-weight:400;color:#1b1b1b;transform:scaleX(1.0600);">18</div>
<div class="t rt" style="left:662.66px;top:725.20px;font-size:27.6px;font-weight:400;color:#1b1b1b;transform:scaleX(1.0600);">2</div>
<div class="t rt" style="left:721.21px;top:725.20px;font-size:27.6px;font-weight:400;color:#1b1b1b;transform:scaleX(1.0600);">0</div>
<div class="t rt" style="left:779.76px;top:725.20px;font-size:27.6px;font-weight:400;color:#1b1b1b;transform:scaleX(1.0600);">0</div>
<div class="t rt" style="left:838.31px;top:725.20px;font-size:27.6px;font-weight:400;color:#1b1b1b;transform:scaleX(1.0600);">0</div>
<div class="t rt" style="left:896.86px;top:725.20px;font-size:27.6px;font-weight:400;color:#1b1b1b;transform:scaleX(1.0600);">1</div>
<div class="t rt" style="left:955.41px;top:725.20px;font-size:27.6px;font-weight:400;color:#1b1b1b;transform:scaleX(1.0600);">0</div>
<div class="t rt" style="left:1013.96px;top:725.20px;font-size:27.6px;font-weight:400;color:#1b1b1b;transform:scaleX(1.0600);">1</div>
<div class="t rt" style="left:1134.34px;top:723.20px;font-size:27.6px;font-weight:400;color:#1b1b1b;transform:scaleX(0.9600);">L</div>
<div class="t rt" style="left:1203.18px;top:723.20px;font-size:27.6px;font-weight:400;color:#1b1b1b;transform:scaleX(0.9600);">O</div>
<div class="t rt" style="left:1274.18px;top:723.20px;font-size:27.6px;font-weight:400;color:#1b1b1b;transform:scaleX(0.9600);">O</div>
<div class="t rt" style="left:1336.54px;top:723.20px;font-size:27.6px;font-weight:400;color:#1b1b1b;transform:scaleX(0.9600);">NS</div>
<div class="t rt" style="left:1416.18px;top:723.20px;font-size:27.6px;font-weight:400;color:#1b1b1b;transform:scaleX(0.9600);">O</div>

<div class="abs" style="left:23.5px;top:756.5px;width:1500px;height:1.9px;background:#dbdbdb"></div>
<div class="t rt" style="left:32.30px;top:769.05px;font-size:27.6px;font-weight:400;color:#1b1b1b;transform:scaleX(1.0938);">Adam Axel</div>
<div class="t rt" style="left:451.90px;top:769.05px;font-size:27.6px;font-weight:400;color:#1b1b1b;transform:scaleX(1.0600);">10</div>
<div class="t rt" style="left:587.68px;top:768.45px;font-size:27.6px;font-weight:400;color:#1b1b1b;transform:scaleX(1.0600);">18</div>
<div class="t rt" style="left:662.66px;top:768.45px;font-size:27.6px;font-weight:400;color:#1b1b1b;transform:scaleX(1.0600);">1</div>
<div class="t rt" style="left:721.21px;top:768.45px;font-size:27.6px;font-weight:400;color:#1b1b1b;transform:scaleX(1.0600);">0</div>
<div class="t rt" style="left:779.76px;top:768.45px;font-size:27.6px;font-weight:400;color:#1b1b1b;transform:scaleX(1.0600);">1</div>
<div class="t rt" style="left:838.31px;top:768.45px;font-size:27.6px;font-weight:400;color:#1b1b1b;transform:scaleX(1.0600);">1</div>
<div class="t rt" style="left:896.86px;top:768.45px;font-size:27.6px;font-weight:400;color:#1b1b1b;transform:scaleX(1.0600);">0</div>
<div class="t rt" style="left:955.41px;top:768.45px;font-size:27.6px;font-weight:400;color:#1b1b1b;transform:scaleX(1.0600);">1</div>
<div class="t rt" style="left:1013.96px;top:768.45px;font-size:27.6px;font-weight:400;color:#1b1b1b;transform:scaleX(1.0600);">0</div>
<div class="t rt" style="left:1132.18px;top:766.45px;font-size:27.6px;font-weight:400;color:#1b1b1b;transform:scaleX(0.9600);">O</div>
<div class="t rt" style="left:1190.70px;top:766.45px;font-size:27.6px;font-weight:400;color:#1b1b1b;transform:scaleX(0.9600);">NCI</div>
<div class="t rt" style="left:1274.18px;top:766.45px;font-size:27.6px;font-weight:400;color:#1b1b1b;transform:scaleX(0.9600);">O</div>
<div class="t rt" style="left:1345.18px;top:766.45px;font-size:27.6px;font-weight:400;color:#1b1b1b;transform:scaleX(0.9600);">O</div>
<div class="t rt" style="left:1416.18px;top:766.45px;font-size:27.6px;font-weight:400;color:#1b1b1b;transform:scaleX(0.9600);">O</div>

<div class="abs" style="left:23.5px;top:799.8px;width:1500px;height:1.9px;background:#dbdbdb"></div>
<div class="t rt" style="left:29.63px;top:812.30px;font-size:27.6px;font-weight:400;color:#1b1b1b;transform:scaleX(1.0662);">Marcus Perk</div>
<div class="t rt" style="left:453.23px;top:812.30px;font-size:27.6px;font-weight:400;color:#1b1b1b;transform:scaleX(1.0600);">11</div>
<div class="t rt" style="left:587.68px;top:811.70px;font-size:27.6px;font-weight:400;color:#1b1b1b;transform:scaleX(1.0600);">18</div>
<div class="t rt" style="left:662.66px;top:811.70px;font-size:27.6px;font-weight:400;color:#1b1b1b;transform:scaleX(1.0600);">2</div>
<div class="t rt" style="left:721.21px;top:811.70px;font-size:27.6px;font-weight:400;color:#1b1b1b;transform:scaleX(1.0600);">0</div>
<div class="t rt" style="left:779.76px;top:811.70px;font-size:27.6px;font-weight:400;color:#1b1b1b;transform:scaleX(1.0600);">0</div>
<div class="t rt" style="left:838.31px;top:811.70px;font-size:27.6px;font-weight:400;color:#1b1b1b;transform:scaleX(1.0600);">0</div>
<div class="t rt" style="left:896.86px;top:811.70px;font-size:27.6px;font-weight:400;color:#1b1b1b;transform:scaleX(1.0600);">1</div>
<div class="t rt" style="left:955.41px;top:811.70px;font-size:27.6px;font-weight:400;color:#1b1b1b;transform:scaleX(1.0600);">0</div>
<div class="t rt" style="left:1013.96px;top:811.70px;font-size:27.6px;font-weight:400;color:#1b1b1b;transform:scaleX(1.0600);">1</div>
<div class="t rt" style="left:1134.34px;top:809.70px;font-size:27.6px;font-weight:400;color:#1b1b1b;transform:scaleX(0.9600);">L</div>
<div class="t rt" style="left:1203.18px;top:809.70px;font-size:27.6px;font-weight:400;color:#1b1b1b;transform:scaleX(0.9600);">O</div>
<div class="t rt" style="left:1274.18px;top:809.70px;font-size:27.6px;font-weight:400;color:#1b1b1b;transform:scaleX(0.9600);">O</div>
<div class="t rt" style="left:1336.54px;top:809.70px;font-size:27.6px;font-weight:400;color:#1b1b1b;transform:scaleX(0.9600);">NS</div>
<div class="t rt" style="left:1416.18px;top:809.70px;font-size:27.6px;font-weight:400;color:#1b1b1b;transform:scaleX(0.9600);">O</div>

<div class="abs" style="left:23.5px;top:843.0px;width:1500px;height:1.9px;background:#dbdbdb"></div>
<div class="t rt" style="left:29.41px;top:855.55px;font-size:27.6px;font-weight:400;color:#1b1b1b;transform:scaleX(1.1564);">Elena Franklin</div>
<div class="t rt" style="left:451.90px;top:855.55px;font-size:27.6px;font-weight:400;color:#1b1b1b;transform:scaleX(1.0600);">12</div>
<div class="t rt" style="left:587.68px;top:854.95px;font-size:27.6px;font-weight:400;color:#1b1b1b;transform:scaleX(1.0600);">18</div>
<div class="t rt" style="left:662.66px;top:854.95px;font-size:27.6px;font-weight:400;color:#1b1b1b;transform:scaleX(1.0600);">0</div>
<div class="t rt" style="left:721.21px;top:854.95px;font-size:27.6px;font-weight:400;color:#1b1b1b;transform:scaleX(1.0600);">2</div>
<div class="t rt" style="left:779.76px;top:854.95px;font-size:27.6px;font-weight:400;color:#1b1b1b;transform:scaleX(1.0600);">1</div>
<div class="t rt" style="left:838.31px;top:854.95px;font-size:27.6px;font-weight:400;color:#1b1b1b;transform:scaleX(1.0600);">1</div>
<div class="t rt" style="left:896.86px;top:854.95px;font-size:27.6px;font-weight:400;color:#1b1b1b;transform:scaleX(1.0600);">0</div>
<div class="t rt" style="left:955.41px;top:854.95px;font-size:27.6px;font-weight:400;color:#1b1b1b;transform:scaleX(1.0600);">0</div>
<div class="t rt" style="left:1013.96px;top:854.95px;font-size:27.6px;font-weight:400;color:#1b1b1b;transform:scaleX(1.0600);">0</div>
<div class="t rt" style="left:1132.18px;top:852.95px;font-size:27.6px;font-weight:400;color:#1b1b1b;transform:scaleX(0.9600);">O</div>
<div class="t rt" style="left:1190.70px;top:852.95px;font-size:27.6px;font-weight:400;color:#1b1b1b;transform:scaleX(0.9600);">NCI</div>
<div class="t rt" style="left:1274.18px;top:852.95px;font-size:27.6px;font-weight:400;color:#1b1b1b;transform:scaleX(0.9600);">O</div>
<div class="t rt" style="left:1345.18px;top:852.95px;font-size:27.6px;font-weight:400;color:#1b1b1b;transform:scaleX(0.9600);">O</div>
<div class="t rt" style="left:1416.18px;top:852.95px;font-size:27.6px;font-weight:400;color:#1b1b1b;transform:scaleX(0.9600);">O</div>

<div class="abs" style="left:23.5px;top:886.3px;width:1500px;height:1.9px;background:#dbdbdb"></div>
<div class="t rt" style="left:32.30px;top:898.80px;font-size:27.6px;font-weight:400;color:#1b1b1b;transform:scaleX(1.1125);">Wesley Grim</div>
<div class="t rt" style="left:451.90px;top:898.80px;font-size:27.6px;font-weight:400;color:#1b1b1b;transform:scaleX(1.0600);">13</div>
<div class="t rt" style="left:587.68px;top:898.20px;font-size:27.6px;font-weight:400;color:#1b1b1b;transform:scaleX(1.0600);">18</div>
<div class="t rt" style="left:662.66px;top:898.20px;font-size:27.6px;font-weight:400;color:#1b1b1b;transform:scaleX(1.0600);">2</div>
<div class="t rt" style="left:721.21px;top:898.20px;font-size:27.6px;font-weight:400;color:#1b1b1b;transform:scaleX(1.0600);">0</div>
<div class="t rt" style="left:779.76px;top:898.20px;font-size:27.6px;font-weight:400;color:#1b1b1b;transform:scaleX(1.0600);">0</div>
<div class="t rt" style="left:838.31px;top:898.20px;font-size:27.6px;font-weight:400;color:#1b1b1b;transform:scaleX(1.0600);">0</div>
<div class="t rt" style="left:896.86px;top:898.20px;font-size:27.6px;font-weight:400;color:#1b1b1b;transform:scaleX(1.0600);">1</div>
<div class="t rt" style="left:955.41px;top:898.20px;font-size:27.6px;font-weight:400;color:#1b1b1b;transform:scaleX(1.0600);">0</div>
<div class="t rt" style="left:1013.96px;top:898.20px;font-size:27.6px;font-weight:400;color:#1b1b1b;transform:scaleX(1.0600);">1</div>
<div class="t rt" style="left:1134.34px;top:896.20px;font-size:27.6px;font-weight:400;color:#1b1b1b;transform:scaleX(0.9600);">L</div>
<div class="t rt" style="left:1203.18px;top:896.20px;font-size:27.6px;font-weight:400;color:#1b1b1b;transform:scaleX(0.9600);">O</div>
<div class="t rt" style="left:1274.18px;top:896.20px;font-size:27.6px;font-weight:400;color:#1b1b1b;transform:scaleX(0.9600);">O</div>
<div class="t rt" style="left:1336.54px;top:896.20px;font-size:27.6px;font-weight:400;color:#1b1b1b;transform:scaleX(0.9600);">NS</div>
<div class="t rt" style="left:1416.18px;top:896.20px;font-size:27.6px;font-weight:400;color:#1b1b1b;transform:scaleX(0.9600);">O</div>

<div class="abs" style="left:23.5px;top:929.5px;width:1500px;height:1.9px;background:#dbdbdb"></div>
<div class="t rt" style="left:31.74px;top:942.05px;font-size:27.6px;font-weight:400;color:#1b1b1b;transform:scaleX(1.1107);">Jake Alberts</div>
<div class="t rt" style="left:451.64px;top:942.05px;font-size:27.6px;font-weight:400;color:#1b1b1b;transform:scaleX(1.0600);">14</div>
<div class="t rt" style="left:587.68px;top:941.45px;font-size:27.6px;font-weight:400;color:#1b1b1b;transform:scaleX(1.0600);">20</div>
<div class="t rt" style="left:662.66px;top:941.45px;font-size:27.6px;font-weight:400;color:#1b1b1b;transform:scaleX(1.0600);">0</div>
<div class="t rt" style="left:721.21px;top:941.45px;font-size:27.6px;font-weight:400;color:#1b1b1b;transform:scaleX(1.0600);">0</div>
<div class="t rt" style="left:779.76px;top:941.45px;font-size:27.6px;font-weight:400;color:#1b1b1b;transform:scaleX(1.0600);">1</div>
<div class="t rt" style="left:838.31px;top:941.45px;font-size:27.6px;font-weight:400;color:#1b1b1b;transform:scaleX(1.0600);">1</div>
<div class="t rt" style="left:896.86px;top:941.45px;font-size:27.6px;font-weight:400;color:#1b1b1b;transform:scaleX(1.0600);">0</div>
<div class="t rt" style="left:955.41px;top:941.45px;font-size:27.6px;font-weight:400;color:#1b1b1b;transform:scaleX(1.0600);">0</div>
<div class="t rt" style="left:1013.96px;top:941.45px;font-size:27.6px;font-weight:400;color:#1b1b1b;transform:scaleX(1.0600);">0</div>
<div class="t rt" style="left:1132.18px;top:939.45px;font-size:27.6px;font-weight:400;color:#1b1b1b;transform:scaleX(0.9600);">O</div>
<div class="t rt" style="left:1190.70px;top:939.45px;font-size:27.6px;font-weight:400;color:#1b1b1b;transform:scaleX(0.9600);">NCI</div>
<div class="t rt" style="left:1274.18px;top:939.45px;font-size:27.6px;font-weight:400;color:#1b1b1b;transform:scaleX(0.9600);">O</div>
<div class="t rt" style="left:1345.18px;top:939.45px;font-size:27.6px;font-weight:400;color:#1b1b1b;transform:scaleX(0.9600);">O</div>
<div class="t rt" style="left:1416.18px;top:939.45px;font-size:27.6px;font-weight:400;color:#1b1b1b;transform:scaleX(0.9600);">O</div>

<div class="abs" style="left:23.5px;top:972.8px;width:1500px;height:1.9px;background:#dbdbdb"></div>
<div class="t rt" style="left:32.30px;top:985.30px;font-size:27.6px;font-weight:400;color:#1b1b1b;transform:scaleX(1.1511);">Valarie Norman</div>
<div class="t rt" style="left:451.90px;top:985.30px;font-size:27.6px;font-weight:400;color:#1b1b1b;transform:scaleX(1.0600);">15</div>
<div class="t rt" style="left:587.68px;top:984.70px;font-size:27.6px;font-weight:400;color:#1b1b1b;transform:scaleX(1.0600);">17</div>
<div class="t rt" style="left:662.66px;top:984.70px;font-size:27.6px;font-weight:400;color:#1b1b1b;transform:scaleX(1.0600);">2</div>
<div class="t rt" style="left:721.21px;top:984.70px;font-size:27.6px;font-weight:400;color:#1b1b1b;transform:scaleX(1.0600);">0</div>
<div class="t rt" style="left:779.76px;top:984.70px;font-size:27.6px;font-weight:400;color:#1b1b1b;transform:scaleX(1.0600);">0</div>
<div class="t rt" style="left:838.31px;top:984.70px;font-size:27.6px;font-weight:400;color:#1b1b1b;transform:scaleX(1.0600);">1</div>
<div class="t rt" style="left:896.86px;top:984.70px;font-size:27.6px;font-weight:400;color:#1b1b1b;transform:scaleX(1.0600);">1</div>
<div class="t rt" style="left:955.41px;top:984.70px;font-size:27.6px;font-weight:400;color:#1b1b1b;transform:scaleX(1.0600);">0</div>
<div class="t rt" style="left:1013.96px;top:984.70px;font-size:27.6px;font-weight:400;color:#1b1b1b;transform:scaleX(1.0600);">1</div>
<div class="t rt" style="left:1134.34px;top:982.70px;font-size:27.6px;font-weight:400;color:#1b1b1b;transform:scaleX(0.9600);">L</div>
<div class="t rt" style="left:1203.18px;top:982.70px;font-size:27.6px;font-weight:400;color:#1b1b1b;transform:scaleX(0.9600);">O</div>
<div class="t rt" style="left:1274.18px;top:982.70px;font-size:27.6px;font-weight:400;color:#1b1b1b;transform:scaleX(0.9600);">O</div>
<div class="t rt" style="left:1336.54px;top:982.70px;font-size:27.6px;font-weight:400;color:#1b1b1b;transform:scaleX(0.9600);">NS</div>
<div class="t rt" style="left:1416.18px;top:982.70px;font-size:27.6px;font-weight:400;color:#1b1b1b;transform:scaleX(0.9600);">O</div>

<div class="abs" style="left:23.5px;top:1016.0px;width:1500px;height:1.9px;background:#dbdbdb"></div>
<div class="t rt" style="left:30.66px;top:1028.55px;font-size:27.6px;font-weight:400;color:#1b1b1b;transform:scaleX(1.0966);">Christy Kibben</div>
<div class="t rt" style="left:451.90px;top:1028.55px;font-size:27.6px;font-weight:400;color:#1b1b1b;transform:scaleX(1.0600);">16</div>
<div class="t rt" style="left:587.68px;top:1027.95px;font-size:27.6px;font-weight:400;color:#1b1b1b;transform:scaleX(1.0600);">19</div>
<div class="t rt" style="left:662.66px;top:1027.95px;font-size:27.6px;font-weight:400;color:#1b1b1b;transform:scaleX(1.0600);">1</div>
<div class="t rt" style="left:721.21px;top:1027.95px;font-size:27.6px;font-weight:400;color:#1b1b1b;transform:scaleX(1.0600);">0</div>
<div class="t rt" style="left:779.76px;top:1027.95px;font-size:27.6px;font-weight:400;color:#1b1b1b;transform:scaleX(1.0600);">1</div>
<div class="t rt" style="left:838.31px;top:1027.95px;font-size:27.6px;font-weight:400;color:#1b1b1b;transform:scaleX(1.0600);">1</div>
<div class="t rt" style="left:896.86px;top:1027.95px;font-size:27.6px;font-weight:400;color:#1b1b1b;transform:scaleX(1.0600);">0</div>
<div class="t rt" style="left:955.41px;top:1027.95px;font-size:27.6px;font-weight:400;color:#1b1b1b;transform:scaleX(1.0600);">0</div>
<div class="t rt" style="left:1013.96px;top:1027.95px;font-size:27.6px;font-weight:400;color:#1b1b1b;transform:scaleX(1.0600);">0</div>
<div class="t rt" style="left:1132.18px;top:1025.95px;font-size:27.6px;font-weight:400;color:#1b1b1b;transform:scaleX(0.9600);">O</div>
<div class="t rt" style="left:1190.70px;top:1025.95px;font-size:27.6px;font-weight:400;color:#1b1b1b;transform:scaleX(0.9600);">NCI</div>
<div class="t rt" style="left:1274.18px;top:1025.95px;font-size:27.6px;font-weight:400;color:#1b1b1b;transform:scaleX(0.9600);">O</div>
<div class="t rt" style="left:1345.18px;top:1025.95px;font-size:27.6px;font-weight:400;color:#1b1b1b;transform:scaleX(0.9600);">O</div>
<div class="t rt" style="left:1416.18px;top:1025.95px;font-size:27.6px;font-weight:400;color:#1b1b1b;transform:scaleX(0.9600);">O</div>

<div class="abs" style="left:23.5px;top:1059.3px;width:1500px;height:1.9px;background:#dbdbdb"></div>
<div class="t rt" style="left:31.75px;top:1071.80px;font-size:27.6px;font-weight:400;color:#1b1b1b;transform:scaleX(1.0957);">Tucker Newman</div>
<div class="t rt" style="left:451.90px;top:1071.80px;font-size:27.6px;font-weight:400;color:#1b1b1b;transform:scaleX(1.0600);">17</div>
<div class="t rt" style="left:587.68px;top:1071.20px;font-size:27.6px;font-weight:400;color:#1b1b1b;transform:scaleX(1.0600);">18</div>
<div class="t rt" style="left:662.66px;top:1071.20px;font-size:27.6px;font-weight:400;color:#1b1b1b;transform:scaleX(1.0600);">2</div>
<div class="t rt" style="left:721.21px;top:1071.20px;font-size:27.6px;font-weight:400;color:#1b1b1b;transform:scaleX(1.0600);">0</div>
<div class="t rt" style="left:779.76px;top:1071.20px;font-size:27.6px;font-weight:400;color:#1b1b1b;transform:scaleX(1.0600);">0</div>
<div class="t rt" style="left:838.31px;top:1071.20px;font-size:27.6px;font-weight:400;color:#1b1b1b;transform:scaleX(1.0600);">0</div>
<div class="t rt" style="left:896.86px;top:1071.20px;font-size:27.6px;font-weight:400;color:#1b1b1b;transform:scaleX(1.0600);">1</div>
<div class="t rt" style="left:955.41px;top:1071.20px;font-size:27.6px;font-weight:400;color:#1b1b1b;transform:scaleX(1.0600);">0</div>
<div class="t rt" style="left:1013.96px;top:1071.20px;font-size:27.6px;font-weight:400;color:#1b1b1b;transform:scaleX(1.0600);">1</div>
<div class="t rt" style="left:1134.34px;top:1069.20px;font-size:27.6px;font-weight:400;color:#1b1b1b;transform:scaleX(0.9600);">L</div>
<div class="t rt" style="left:1203.18px;top:1069.20px;font-size:27.6px;font-weight:400;color:#1b1b1b;transform:scaleX(0.9600);">O</div>
<div class="t rt" style="left:1274.18px;top:1069.20px;font-size:27.6px;font-weight:400;color:#1b1b1b;transform:scaleX(0.9600);">O</div>
<div class="t rt" style="left:1336.54px;top:1069.20px;font-size:27.6px;font-weight:400;color:#1b1b1b;transform:scaleX(0.9600);">NS</div>
<div class="t rt" style="left:1416.18px;top:1069.20px;font-size:27.6px;font-weight:400;color:#1b1b1b;transform:scaleX(0.9600);">O</div>

<div class="abs" style="left:23.5px;top:1102.5px;width:1500px;height:1.9px;background:#dbdbdb"></div>
<div class="t rt" style="left:31.76px;top:1115.05px;font-size:27.6px;font-weight:400;color:#1b1b1b;transform:scaleX(1.0740);">Jeff Storm</div>
<div class="t rt" style="left:451.90px;top:1115.05px;font-size:27.6px;font-weight:400;color:#1b1b1b;transform:scaleX(1.0600);">18</div>
<div class="t rt" style="left:587.68px;top:1114.45px;font-size:27.6px;font-weight:400;color:#1b1b1b;transform:scaleX(1.0600);">19</div>
<div class="t rt" style="left:662.66px;top:1114.45px;font-size:27.6px;font-weight:400;color:#1b1b1b;transform:scaleX(1.0600);">0</div>
<div class="t rt" style="left:721.21px;top:1114.45px;font-size:27.6px;font-weight:400;color:#1b1b1b;transform:scaleX(1.0600);">0</div>
<div class="t rt" style="left:779.76px;top:1114.45px;font-size:27.6px;font-weight:400;color:#1b1b1b;transform:scaleX(1.0600);">1</div>
<div class="t rt" style="left:838.31px;top:1114.45px;font-size:27.6px;font-weight:400;color:#1b1b1b;transform:scaleX(1.0600);">2</div>
<div class="t rt" style="left:896.86px;top:1114.45px;font-size:27.6px;font-weight:400;color:#1b1b1b;transform:scaleX(1.0600);">0</div>
<div class="t rt" style="left:955.41px;top:1114.45px;font-size:27.6px;font-weight:400;color:#1b1b1b;transform:scaleX(1.0600);">0</div>
<div class="t rt" style="left:1013.96px;top:1114.45px;font-size:27.6px;font-weight:400;color:#1b1b1b;transform:scaleX(1.0600);">0</div>
<div class="t rt" style="left:1132.18px;top:1112.45px;font-size:27.6px;font-weight:400;color:#1b1b1b;transform:scaleX(0.9600);">O</div>
<div class="t rt" style="left:1190.70px;top:1112.45px;font-size:27.6px;font-weight:400;color:#1b1b1b;transform:scaleX(0.9600);">NCI</div>
<div class="t rt" style="left:1274.18px;top:1112.45px;font-size:27.6px;font-weight:400;color:#1b1b1b;transform:scaleX(0.9600);">O</div>
<div class="t rt" style="left:1345.18px;top:1112.45px;font-size:27.6px;font-weight:400;color:#1b1b1b;transform:scaleX(0.9600);">O</div>
<div class="t rt" style="left:1416.18px;top:1112.45px;font-size:27.6px;font-weight:400;color:#1b1b1b;transform:scaleX(0.9600);">O</div>

<div class="abs" style="left:23.5px;top:1145.8px;width:1500px;height:1.9px;background:#dbdbdb"></div>
<div class="t rt" style="left:30.59px;top:1158.30px;font-size:27.6px;font-weight:400;color:#1b1b1b;transform:scaleX(1.1429);">Sterling Quinn</div>
<div class="t rt" style="left:451.90px;top:1158.30px;font-size:27.6px;font-weight:400;color:#1b1b1b;transform:scaleX(1.0600);">19</div>
<div class="t rt" style="left:587.68px;top:1157.70px;font-size:27.6px;font-weight:400;color:#1b1b1b;transform:scaleX(1.0600);">18</div>
<div class="t rt" style="left:662.66px;top:1157.70px;font-size:27.6px;font-weight:400;color:#1b1b1b;transform:scaleX(1.0600);">2</div>
<div class="t rt" style="left:721.21px;top:1157.70px;font-size:27.6px;font-weight:400;color:#1b1b1b;transform:scaleX(1.0600);">0</div>
<div class="t rt" style="left:779.76px;top:1157.70px;font-size:27.6px;font-weight:400;color:#1b1b1b;transform:scaleX(1.0600);">0</div>
<div class="t rt" style="left:838.31px;top:1157.70px;font-size:27.6px;font-weight:400;color:#1b1b1b;transform:scaleX(1.0600);">0</div>
<div class="t rt" style="left:896.86px;top:1157.70px;font-size:27.6px;font-weight:400;color:#1b1b1b;transform:scaleX(1.0600);">1</div>
<div class="t rt" style="left:955.41px;top:1157.70px;font-size:27.6px;font-weight:400;color:#1b1b1b;transform:scaleX(1.0600);">0</div>
<div class="t rt" style="left:1013.96px;top:1157.70px;font-size:27.6px;font-weight:400;color:#1b1b1b;transform:scaleX(1.0600);">1</div>
<div class="t rt" style="left:1134.34px;top:1155.70px;font-size:27.6px;font-weight:400;color:#1b1b1b;transform:scaleX(0.9600);">L</div>
<div class="t rt" style="left:1203.18px;top:1155.70px;font-size:27.6px;font-weight:400;color:#1b1b1b;transform:scaleX(0.9600);">O</div>
<div class="t rt" style="left:1274.18px;top:1155.70px;font-size:27.6px;font-weight:400;color:#1b1b1b;transform:scaleX(0.9600);">O</div>
<div class="t rt" style="left:1336.54px;top:1155.70px;font-size:27.6px;font-weight:400;color:#1b1b1b;transform:scaleX(0.9600);">NS</div>
<div class="t rt" style="left:1416.18px;top:1155.70px;font-size:27.6px;font-weight:400;color:#1b1b1b;transform:scaleX(0.9600);">O</div>

<div class="abs" style="left:23.5px;top:1189.0px;width:1500px;height:1.9px;background:#dbdbdb"></div>
<div class="t rt" style="left:29.57px;top:1201.55px;font-size:27.6px;font-weight:400;color:#1b1b1b;transform:scaleX(1.0923);">David Sterny</div>
<div class="t rt" style="left:452.17px;top:1201.55px;font-size:27.6px;font-weight:400;color:#1b1b1b;transform:scaleX(1.0600);">20</div>
<div class="t rt" style="left:587.68px;top:1200.95px;font-size:27.6px;font-weight:400;color:#1b1b1b;transform:scaleX(1.0600);">19</div>
<div class="t rt" style="left:662.66px;top:1200.95px;font-size:27.6px;font-weight:400;color:#1b1b1b;transform:scaleX(1.0600);">0</div>
<div class="t rt" style="left:721.21px;top:1200.95px;font-size:27.6px;font-weight:400;color:#1b1b1b;transform:scaleX(1.0600);">0</div>
<div class="t rt" style="left:779.76px;top:1200.95px;font-size:27.6px;font-weight:400;color:#1b1b1b;transform:scaleX(1.0600);">1</div>
<div class="t rt" style="left:838.31px;top:1200.95px;font-size:27.6px;font-weight:400;color:#1b1b1b;transform:scaleX(1.0600);">2</div>
<div class="t rt" style="left:896.86px;top:1200.95px;font-size:27.6px;font-weight:400;color:#1b1b1b;transform:scaleX(1.0600);">0</div>
<div class="t rt" style="left:955.41px;top:1200.95px;font-size:27.6px;font-weight:400;color:#1b1b1b;transform:scaleX(1.0600);">0</div>
<div class="t rt" style="left:1013.96px;top:1200.95px;font-size:27.6px;font-weight:400;color:#1b1b1b;transform:scaleX(1.0600);">0</div>
<div class="t rt" style="left:1132.18px;top:1198.95px;font-size:27.6px;font-weight:400;color:#1b1b1b;transform:scaleX(0.9600);">O</div>
<div class="t rt" style="left:1190.70px;top:1198.95px;font-size:27.6px;font-weight:400;color:#1b1b1b;transform:scaleX(0.9600);">NCI</div>
<div class="t rt" style="left:1274.18px;top:1198.95px;font-size:27.6px;font-weight:400;color:#1b1b1b;transform:scaleX(0.9600);">O</div>
<div class="t rt" style="left:1345.18px;top:1198.95px;font-size:27.6px;font-weight:400;color:#1b1b1b;transform:scaleX(0.9600);">O</div>
<div class="t rt" style="left:1416.18px;top:1198.95px;font-size:27.6px;font-weight:400;color:#1b1b1b;transform:scaleX(0.9600);">O</div>

<div class="abs" style="left:23.5px;top:1232.3px;width:1500px;height:1.9px;background:#dbdbdb"></div>
<div class="abs" style="left:565.0px;top:368.6px;width:1.9px;height:900px;background:#dbdbdb"></div><div class="abs" style="left:623.5px;top:368.6px;width:1.9px;height:900px;background:#dbdbdb"></div><div class="abs" style="left:682.1px;top:368.6px;width:1.9px;height:900px;background:#dbdbdb"></div><div class="abs" style="left:740.7px;top:368.6px;width:1.9px;height:900px;background:#dbdbdb"></div><div class="abs" style="left:799.2px;top:368.6px;width:1.9px;height:900px;background:#dbdbdb"></div><div class="abs" style="left:857.8px;top:368.6px;width:1.9px;height:900px;background:#dbdbdb"></div><div class="abs" style="left:916.3px;top:368.6px;width:1.9px;height:900px;background:#dbdbdb"></div><div class="abs" style="left:974.8px;top:368.6px;width:1.9px;height:900px;background:#dbdbdb"></div><div class="abs" style="left:1033.4px;top:368.6px;width:1.9px;height:900px;background:#dbdbdb"></div><div class="abs" style="left:1104.4px;top:368.6px;width:1.9px;height:900px;background:#dbdbdb"></div><div class="abs" style="left:1175.4px;top:368.6px;width:1.9px;height:900px;background:#dbdbdb"></div><div class="abs" style="left:1246.4px;top:368.6px;width:1.9px;height:900px;background:#dbdbdb"></div><div class="abs" style="left:1317.4px;top:368.6px;width:1.9px;height:900px;background:#dbdbdb"></div><div class="abs" style="left:1388.4px;top:368.6px;width:1.9px;height:900px;background:#dbdbdb"></div><div class="abs" style="left:1459.4px;top:368.6px;width:1.9px;height:900px;background:#dbdbdb"></div>
</div>
<svg class="abs" style="left:0;top:0" width="2500" height="2000" viewBox="0 0 2500 2000">
<defs><linearGradient id="bz" gradientUnits="userSpaceOnUse" x1="1030" y1="0" x2="2000" y2="0"><stop offset="0" stop-color="#1c1c1c"/><stop offset="0.1" stop-color="#1c1c1c"/><stop offset="0.45" stop-color="#171717"/><stop offset="1" stop-color="#0e0e0e"/></linearGradient><linearGradient id="bz2" gradientUnits="userSpaceOnUse" x1="0" y1="950" x2="0" y2="1780"><stop offset="0" stop-color="#242424"/><stop offset="1" stop-color="#1c1c1c"/></linearGradient><clipPath id="bzc"><path clip-rule="evenodd" d="M1029.8 581 A68 68 0 0 1 1097.8 512.9 L2520 509.4 L2520 1829.6 L1097 1825.6 A67.2 67.2 0 0 1 1029.8 1758.4 Z M1080.1 579.2 A16 16 0 0 1 1096.1 563.2 L2520 559.5 L2520 1778.3 L1098.1 1775.1 A18 18 0 0 1 1080.1 1757.1 Z"/></clipPath></defs>
<path fill="#111111" fill-rule="evenodd" d="M1029.8 581 A68 68 0 0 1 1097.8 512.9 L2520 509.4 L2520 1829.6 L1097 1825.6 A67.2 67.2 0 0 1 1029.8 1758.4 Z M1080.1 579.2 A16 16 0 0 1 1096.1 563.2 L2520 559.5 L2520 1778.3 L1098.1 1775.1 A18 18 0 0 1 1080.1 1757.1 Z"/>
<g clip-path="url(#bzc)"><path fill="url(#bz)" d="M1020 1770 L2520 1770 L2520 1840 L1020 1840 Z"/><path fill="url(#bz2)" d="M1020 944.4 L1081 958.5 L1081 1770.5 L1020 1770.5 Z"/></g>
<circle cx="1054.1" cy="1124.9" r="9" fill="#2c2c2c"/><circle cx="1054.1" cy="1166.4" r="4.6" fill="#d8d8d8"/><circle cx="1054.1" cy="1207.5" r="9" fill="#595c66"/><circle cx="1054.1" cy="1247.5" r="9" fill="#2a2a2a"/><circle cx="1054.1" cy="1287.2" r="9" fill="#2a2a2a"/><circle cx="1054.1" cy="1207.5" r="3.2" fill="#52629a"/>
</svg>
</body></html>
